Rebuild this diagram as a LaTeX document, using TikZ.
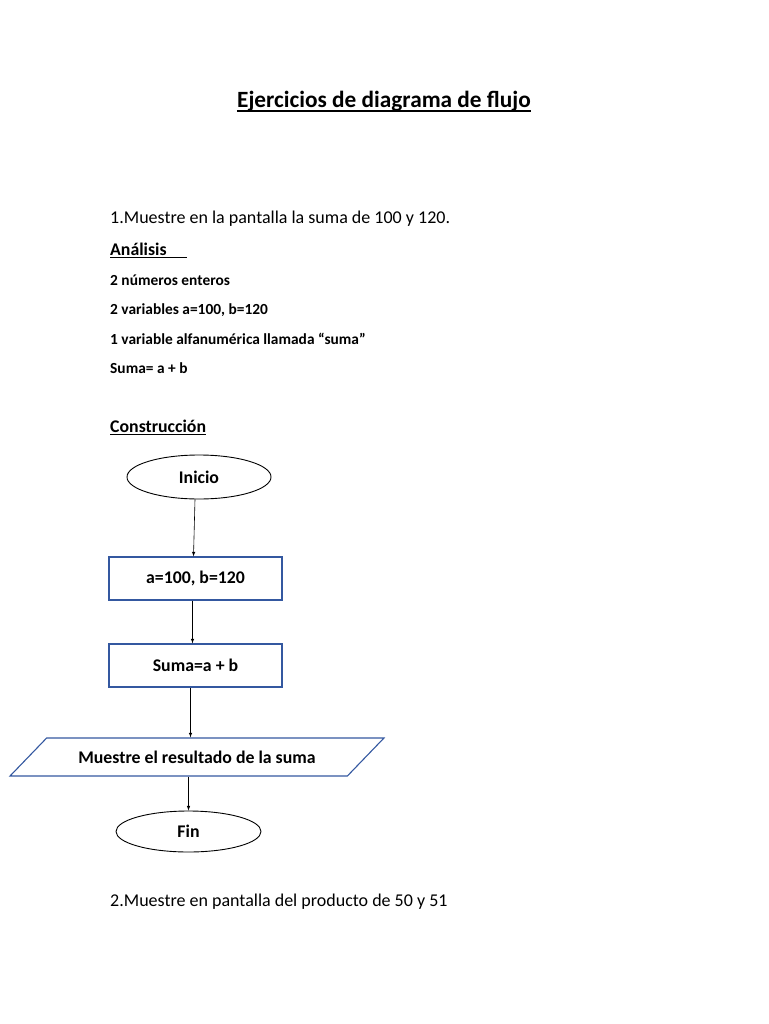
\documentclass[tikz,border=0pt]{standalone}
\usepackage{fontspec}
\setmainfont{Carlito}
\usetikzlibrary{arrows,shapes.geometric}
\definecolor{boxblue}{RGB}{52,88,160}

\begin{document}
\begin{tikzpicture}[x=1pt,y=-1pt,
    texto/.style={anchor=base west,inner sep=0pt,font=\fontsize{18}{21}\selectfont},
    subtitulo/.style={anchor=base west,inner sep=0pt,font=\bfseries\fontsize{17.8}{21}\selectfont},
    chico/.style={anchor=base west,inner sep=0pt,font=\bfseries\fontsize{15.4}{18}\selectfont},
    caja/.style={draw=boxblue,line width=1.1pt,minimum width=173pt,minimum height=43pt,font=\bfseries\fontsize{17.8}{21}\selectfont},
    terminal/.style={draw,ellipse,line width=0.9pt,font=\bfseries\fontsize{17.8}{21}\selectfont},
    flecha/.style={-latex,line width=0.6pt}]
    \useasboundingbox (0,0) rectangle (768,1024);
    % Title and statement
    \node[anchor=base,inner sep=0pt,font=\bfseries\fontsize{23.3}{28}\selectfont] (titulo) at (384,108) {Ejercicios de diagrama de flujo};
    \draw[line width=1.3pt] ([yshift=-3pt]titulo.base west) -- ([yshift=-3pt]titulo.base east);
    \node[texto] (enunciado) at (110,224) {1.Muestre en la pantalla la suma de 100 y 120.};
    % Analysis
    \node[subtitulo] (analisis) at (110,255) {Análisis};
    \draw[line width=1.2pt] ([yshift=-2.5pt]analisis.base west) -- ++(77,0);
    \foreach \y/\t [count=\i] in {285/2 números enteros, 314/{2 variables a=100, b=120}, 344/1 variable alfanumérica llamada “suma”, 373/Suma= a + b}{
      \node[chico] (dato\i) at (110,\y) {\t};
    }
    \node[subtitulo] (construccion) at (110,432) {Construcción};
    \draw[line width=1.2pt] ([yshift=-2.5pt]construccion.base west) -- ([yshift=-2.5pt]construccion.base east);
    % Draw the flowchart
    \node[terminal,minimum width=144pt,minimum height=44pt] (inicio) at (199,477) {Inicio};
    \node[caja] (datos) at (195.5,578.5) {a=100, b=120};
    \node[caja] (suma) at (195.5,665.5) {Suma=a + b};
    \node[trapezium,trapezium stretches=true,trapezium left angle=33,trapezium right angle=147,
      draw=boxblue,line width=1.1pt,minimum width=374pt,minimum height=38pt,
      font=\bfseries\fontsize{17.8}{21}\selectfont] (salida) at (197,757) {Muestre el resultado de la suma};
    \node[terminal,minimum width=145pt,minimum height=41pt] (fin) at (188.5,831.5) {Fin};
    % Draw the arrows
    \draw[flecha] ([xshift=-4pt]inicio.south) -- ([xshift=-2pt]datos.north);
    \draw[flecha] ([xshift=-3pt]datos.south) -- ([xshift=-3pt]suma.north);
    \draw[flecha] ([xshift=-5pt]suma.south) -- ([xshift=-5pt]suma.south |- salida.north);
    \draw[flecha] (salida.south -| fin) -- (fin.north);
    % Next exercise
    \node[texto] (enunciado2) at (110,906) {2.Muestre en pantalla del producto de 50 y 51};
\end{tikzpicture}
\end{document}
